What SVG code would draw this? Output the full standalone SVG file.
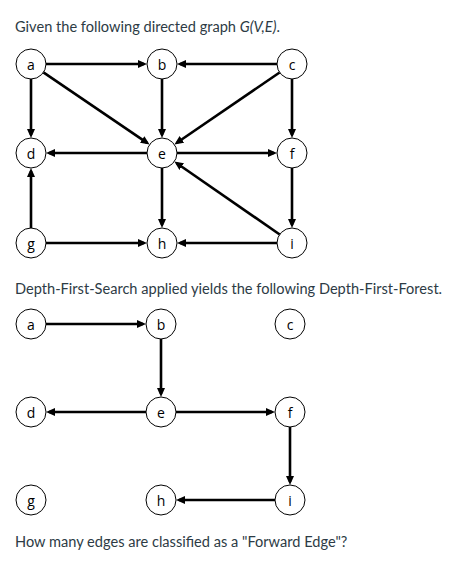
<svg xmlns="http://www.w3.org/2000/svg" width="452" height="568" viewBox="0 0 452 568">
<defs>
<marker id="arr" viewBox="0 0 9 8" markerWidth="9" markerHeight="8" refX="6" refY="4" orient="auto" markerUnits="userSpaceOnUse">
<path d="M0,0 L9,4 L0,8 z" fill="#000"/>
</marker>
<style>
.txt{font-family:Lato,"Liberation Sans",sans-serif;font-size:14.6px;fill:#2d3b45}
.node circle{fill:#fff;stroke:#000;stroke-width:1}
.node text{font-family:"Open Sans","Liberation Sans",sans-serif;font-size:14px;fill:#000;text-anchor:middle;dominant-baseline:central}
.edges line{stroke:#000;stroke-width:2.6;marker-end:url(#arr)}
</style>
</defs>
<rect width="452" height="568" fill="#fff"/>
<text class="txt" x="15" y="32">Given the following directed graph <tspan font-style="italic">G(V,E)</tspan>.</text>
<text class="txt" x="15" y="294">Depth-First-Search applied yields the following Depth-First-Forest.</text>
<text class="txt" x="15" y="547">How many edges are classified as a "Forward Edge"?</text>

<g id="edges-graph" class="edges">
<line x1="46" y1="64" x2="144" y2="64"/>
<line x1="277" y1="64" x2="180" y2="64"/>
<line x1="31" y1="79" x2="31" y2="135"/>
<line x1="162" y1="79" x2="162" y2="135"/>
<line x1="292" y1="79" x2="292" y2="135"/>
<line x1="147" y1="153" x2="49" y2="153"/>
<line x1="177" y1="153" x2="274" y2="153"/>
<line x1="31" y1="228" x2="31" y2="171"/>
<line x1="162" y1="168" x2="162" y2="225"/>
<line x1="292" y1="168" x2="292" y2="225"/>
<line x1="46" y1="243" x2="144" y2="243"/>
<line x1="277" y1="243" x2="180" y2="243"/>
<line x1="43.4" y1="72.4" x2="147.1" y2="142.9"/>
<line x1="279.6" y1="72.5" x2="176.9" y2="142.8"/>
<line x1="279.7" y1="234.5" x2="176.8" y2="163.2"/>
</g>

<g id="edges-forest" class="edges">
<line x1="46" y1="324" x2="143" y2="324"/>
<line x1="161" y1="339" x2="161" y2="394"/>
<line x1="146" y1="412" x2="49" y2="412"/>
<line x1="176" y1="412" x2="272" y2="412"/>
<line x1="290" y1="427" x2="290" y2="482"/>
<line x1="275" y1="500" x2="179" y2="500"/>
</g>

<g id="a" class="node"><circle cx="31" cy="64" r="15"/><text x="31" y="64">a</text></g>
<g id="b" class="node"><circle cx="162" cy="64" r="15"/><text x="162" y="64">b</text></g>
<g id="c" class="node"><circle cx="292" cy="64" r="15"/><text x="292" y="64">c</text></g>
<g id="d" class="node"><circle cx="31" cy="153" r="15"/><text x="31" y="153">d</text></g>
<g id="e" class="node"><circle cx="162" cy="153" r="15"/><text x="162" y="153">e</text></g>
<g id="f" class="node"><circle cx="292" cy="153" r="15"/><text x="292" y="153">f</text></g>
<g id="g" class="node"><circle cx="31" cy="243" r="15"/><text x="31" y="243">g</text></g>
<g id="h" class="node"><circle cx="162" cy="243" r="15"/><text x="162" y="243">h</text></g>
<g id="i" class="node"><circle cx="292" cy="243" r="15"/><text x="292" y="243">i</text></g>

<g id="fa" class="node"><circle cx="31" cy="324" r="15"/><text x="31" y="324">a</text></g>
<g id="fb" class="node"><circle cx="161" cy="324" r="15"/><text x="161" y="324">b</text></g>
<g id="fc" class="node"><circle cx="290" cy="324" r="15"/><text x="290" y="324">c</text></g>
<g id="fd" class="node"><circle cx="31" cy="412" r="15"/><text x="31" y="412">d</text></g>
<g id="fe" class="node"><circle cx="161" cy="412" r="15"/><text x="161" y="412">e</text></g>
<g id="ff" class="node"><circle cx="290" cy="412" r="15"/><text x="290" y="412">f</text></g>
<g id="fg" class="node"><circle cx="31" cy="500" r="15"/><text x="31" y="500">g</text></g>
<g id="fh" class="node"><circle cx="161" cy="500" r="15"/><text x="161" y="500">h</text></g>
<g id="fi" class="node"><circle cx="290" cy="500" r="15"/><text x="290" y="500">i</text></g>
</svg>
